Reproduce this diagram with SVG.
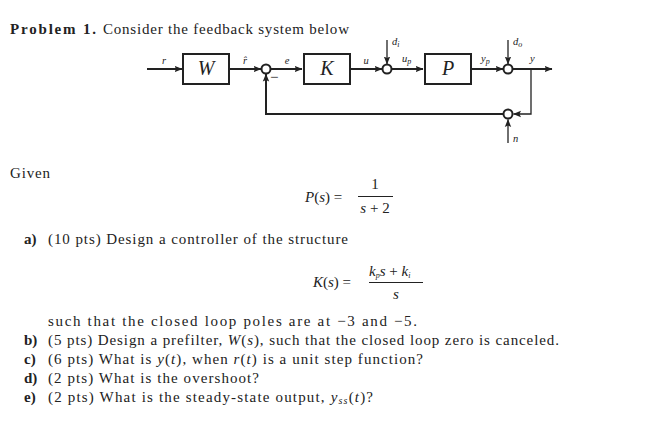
<svg xmlns="http://www.w3.org/2000/svg" width="647" height="430" viewBox="0 0 647 430">
<style>
text{font-family:"Liberation Serif","Times New Roman",serif;font-size:15px;fill:#222}
.b{font-weight:bold}
.i{font-style:italic}
.s{font-style:italic;font-size:10.5px}
.big{font-style:italic;font-size:20px}
.sub{font-size:8px;font-style:italic}
.box{fill:#fff;stroke:#222;stroke-width:2}
.sum{fill:#fff;stroke:#222;stroke-width:2}
.w{fill:none;stroke:#222;stroke-width:2}
.t{fill:none;stroke:#222;stroke-width:1.3}
.rule{stroke:#222;stroke-width:1}
</style>
<defs>
<marker id="a" viewBox="0 0 8 8" refX="7.5" refY="4" markerWidth="8" markerHeight="8" markerUnits="userSpaceOnUse" orient="auto"><path d="M0 0.8L8 4L0 7.2L1.5 4Z" fill="#222"/></marker>
</defs>
<text x="10" y="34" class="b" textLength="86">Problem 1.</text>
<text x="103" y="34" textLength="246">Consider the feedback system below</text>
<g id="connectors">
<path class="w" d="M147 69H182" marker-end="url(#a)"/>
<path class="w" d="M229 69H261" marker-end="url(#a)"/>
<path class="w" d="M271 69H302" marker-end="url(#a)"/>
<path class="w" d="M350 69H382" marker-end="url(#a)"/>
<path class="w" d="M392 69H423" marker-end="url(#a)"/>
<path class="w" d="M471 69H503" marker-end="url(#a)"/>
<path class="w" d="M513 69H552" marker-end="url(#a)"/>
<path class="t" d="M387 40V64" marker-end="url(#a)"/>
<path class="t" d="M508 40V64" marker-end="url(#a)"/>
<path class="t" d="M531 69V114H513.500" marker-end="url(#a)"/>
<path class="t" d="M508 143V119.500" marker-end="url(#a)"/>
<path class="w" d="M503 114H266V74" marker-end="url(#a)"/>
</g>
<g id="node-W"><rect class="box" x="183" y="54" width="46" height="30"/><text x="206" y="75" class="big" text-anchor="middle">W</text></g>
<g id="node-K"><rect class="box" x="304" y="54" width="46" height="30"/><text x="327" y="75" class="big" text-anchor="middle">K</text></g>
<g id="node-P"><rect class="box" x="425" y="54" width="46" height="30"/><text x="448" y="75" class="big" text-anchor="middle">P</text></g>
<g id="sum-1"><circle class="sum" cx="266" cy="69" r="4.500"/><text x="270" y="82" font-size="11">−</text></g>
<g id="sum-2"><circle class="sum" cx="387" cy="69" r="4.500"/></g>
<g id="sum-3"><circle class="sum" cx="508" cy="69" r="4.500"/></g>
<g id="sum-4"><circle class="sum" cx="508" cy="114" r="4.500"/></g>
<g id="signal-labels">
<text x="164" y="64" class="s" text-anchor="middle">r</text>
<text x="245" y="64" class="s" text-anchor="middle">r̂</text>
<text x="287" y="64" class="s" text-anchor="middle">e</text>
<text x="366" y="64" class="s" text-anchor="middle">u</text>
<text x="402" y="62" class="s">u<tspan class="sub" dy="2">p</tspan></text>
<text x="481" y="62" class="s">y<tspan class="sub" dy="2">p</tspan></text>
<text x="530" y="62" class="s">y</text>
<text x="392" y="45" class="s">d<tspan class="sub" dy="2">i</tspan></text>
<text x="513" y="45" class="s">d<tspan class="sub" dy="2">o</tspan></text>
<text x="513" y="142" class="s">n</text>
</g>
<text x="10" y="178" textLength="40">Given</text>
<text x="305" y="202"><tspan class="i">P</tspan>(<tspan class="i">s</tspan>) =</text>
<text x="375" y="189" text-anchor="middle">1</text>
<line class="rule" x1="358" y1="196.500" x2="393" y2="196.500"/>
<text x="375" y="213" text-anchor="middle"><tspan class="i">s</tspan> + 2</text>
<text x="24" y="244" class="b">a)</text>
<text x="48" y="244" textLength="300">(10 pts) Design a controller of the structure</text>
<text x="313" y="287"><tspan class="i">K</tspan>(<tspan class="i">s</tspan>) =</text>
<text x="369" y="276" class="i">k<tspan class="sub" dy="2">p</tspan><tspan dy="-2">s</tspan><tspan font-style="normal"> + </tspan>k<tspan class="sub" dy="2">i</tspan></text>
<line class="rule" x1="369" y1="282.500" x2="423" y2="282.500"/>
<text x="396" y="299" class="i" text-anchor="middle">s</text>
<text x="48" y="326" textLength="369">such that the closed loop poles are at −3 and −5.</text>
<text x="24" y="345" class="b">b)</text>
<text x="48" y="345" textLength="511">(5 pts) Design a prefilter, <tspan class="i">W</tspan>(<tspan class="i">s</tspan>), such that the closed loop zero is canceled.</text>
<text x="24" y="364" class="b">c)</text>
<text x="48" y="364" textLength="375">(6 pts) What is <tspan class="i">y</tspan>(<tspan class="i">t</tspan>), when <tspan class="i">r</tspan>(<tspan class="i">t</tspan>) is a unit step function?</text>
<text x="24" y="383" class="b">d)</text>
<text x="48" y="383" textLength="211">(2 pts) What is the overshoot?</text>
<text x="24" y="402" class="b">e)</text>
<text x="48" y="402" textLength="325">(2 pts) What is the steady-state output, <tspan class="i">y<tspan font-size="10" dy="2">ss</tspan></tspan><tspan dy="-2">(</tspan><tspan class="i">t</tspan>)?</text>
</svg>
